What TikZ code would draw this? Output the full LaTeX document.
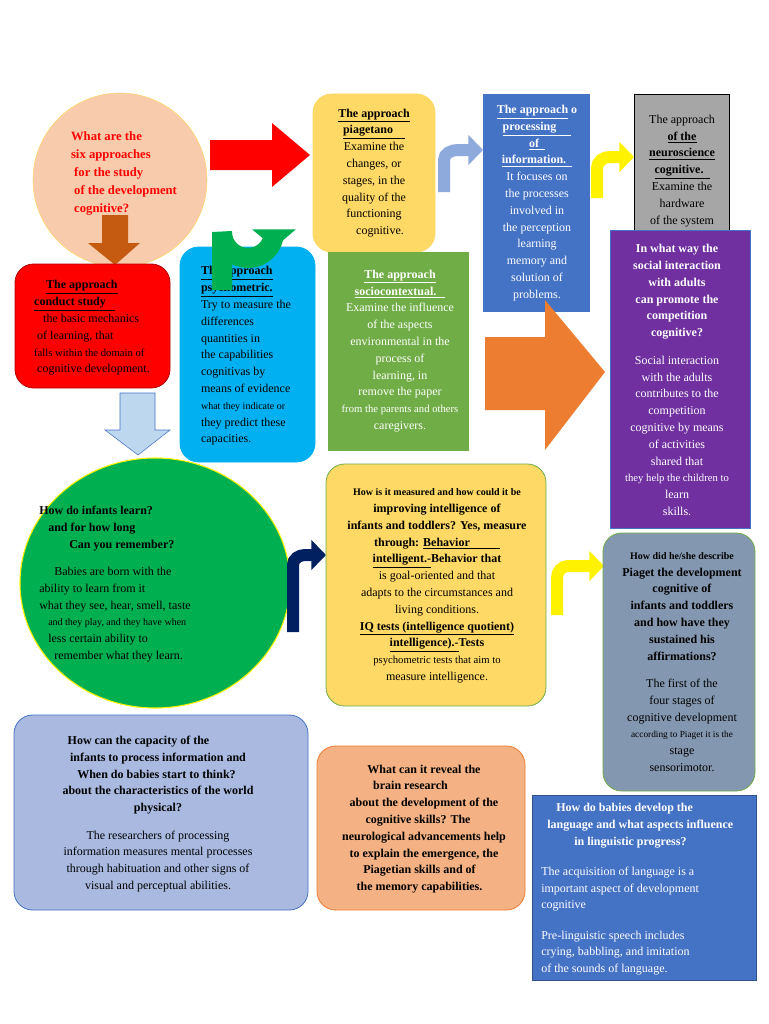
\documentclass[tikz,border=0pt]{standalone}
\usepackage{fontspec}
\setmainfont{Liberation Serif}
\usetikzlibrary{positioning,arrows.meta}

\definecolor{peach}{HTML}{F8CBAD}
\definecolor{sun}{HTML}{FFD966}
\definecolor{steel}{HTML}{4472C4}
\definecolor{ash}{HTML}{A6A6A6}
\definecolor{plum}{HTML}{7030A0}
\definecolor{leaf}{HTML}{70AD47}
\definecolor{sky}{HTML}{00B0F0}
\definecolor{grass}{HTML}{00B050}
\definecolor{rust}{HTML}{C55A11}
\definecolor{pale}{HTML}{BDD7EE}
\definecolor{navy}{HTML}{002060}
\definecolor{slate}{HTML}{8497B0}
\definecolor{lavender}{HTML}{A9B9E0}
\definecolor{salmon}{HTML}{F4B183}
\definecolor{tang}{HTML}{ED7D31}
\definecolor{lightblue}{HTML}{8EA9DB}

\tikzset{
    txt/.style={font=\fontsize{9}{12.6}\selectfont, inner sep=0pt},
    card/.style={rounded corners=14pt, draw=#1, line width=0.6pt},
    bent/.style={line width=#1, -{Triangle[length=11pt,width=22pt]}},
}

\begin{document}
\begin{tikzpicture}[x=0.75pt,y=-0.75pt]
    \useasboundingbox (0,0) rectangle (768,1024);
    \fill[white] (0,0) rectangle (768,1024);

    %Top row
    \filldraw[fill=peach, draw=sun] (120,180) ellipse (87 and 87);
    \node[txt, align=left, text=red, font=\fontsize{9.5}{13.5}\selectfont\bfseries] (q0) at (124,174)
        {What are the\\six approaches\\\ for the study\\\ of the development\\\ cognitive?};
    \fill[red] (210,140) -- (272,140) -- (272,123) -- (310,155) -- (272,187) -- (272,170) -- (210,170) -- cycle;

    \filldraw[fill=sun, card=sun] (313,94) rectangle (435,252);
    \node[txt, align=center] (piaget) at (374,173)
        {\textbf{\underline{The approach}}\\\textbf{\underline{piagetano\ \ \ \ }}\\Examine the\\changes, or\\stages, in the\\quality of the\\functioning\\\ \ \ \ cognitive.};

    \draw[lightblue, bent=9pt] (444,192) -- (444,160) to[out=90,in=180] (458,150) -- (483,150);

    \fill[steel] (483,94) rectangle (590,312);
    \node[txt, align=center, text=white] (proc) at (537,203)
        {\textbf{\underline{The approach} o}\\\textbf{\underline{processing\ \ \ \ \ }}\\\textbf{\underline{of\ \ }}\\\textbf{\underline{information.\ \ }}\\It focuses on\\the processes\\involved in\\the perception\\learning\\memory and\\solution of\\problems.};

    \draw[yellow, bent=9pt] (597,198) -- (597,168) to[out=90,in=180] (610,157) -- (634,157);

    \filldraw[fill=ash, draw=black] (634,94) rectangle (729,240);
    \node[txt, align=center] (neuro) at (682,178)
        {The approach\\\textbf{\underline{of the}}\\\textbf{\underline{neuroscience}}\\\textbf{\underline{cognitive.\ \ }}\\Examine the\\hardware\\of the system\\nervous};

    \filldraw[fill=plum, draw=steel] (610,230) rectangle (750,528);
    \node[txt, align=center, text=white] (social) at (677,380)
        {\textbf{In what way the}\\\textbf{social interaction}\\\textbf{with adults}\\\textbf{can promote the}\\\textbf{competition}\\\textbf{cognitive?}\\[8pt]Social interaction\\with the adults\\contributes to the\\competition\\cognitive by means\\of activities\\shared that\\{\fontsize{8}{12.6}\selectfont they help the children to}\\learn\\skills.};

    %Second row
    \fill[tang] (485,337) -- (545,337) -- (545,300) -- (605,372) -- (545,450) -- (545,410) -- (485,410) -- cycle;

    \filldraw[fill=leaf, draw=leaf] (328,252) rectangle (468,450);
    \node[txt, align=center, text=white] (socio) at (400,351)
        {\textbf{\underline{The approach}}\\\textbf{\underline{sociocontextual.\ \ \ }}\\Examine the influence\\of the aspects\\environmental in the\\process of\\learning, in\\remove the paper\\{\fontsize{8}{12.6}\selectfont from the parents and others}\\caregivers.};

    \filldraw[fill=sky, card=sky] (180,247) rectangle (315,462);
    \node[txt, align=left] (psycho) at (246,356)
        {\textbf{\underline{The approach}}\\\textbf{\underline{psychometric.}}\\Try to measure the\\differences\\quantities in\\the capabilities\\cognitivas by\\means of evidence\\{\fontsize{7.5}{12.6}\selectfont what they indicate or}\\they predict these\\capacities.};

    \draw[grass, line width=15pt, -{Triangle[length=14pt,width=32pt]}] (222,290) -- (222,232) arc (180:0:26) -- (274,248);

    \fill[rust] (102,215) -- (128,215) -- (128,243) -- (140,243) -- (115,265) -- (88,243) -- (102,243) -- cycle;

    \filldraw[fill=red, card=red!70!black] (15,264) rectangle (170,388);
    \node[txt, align=left] (conduct) at (92,328)
        {\ \ \ \ \textbf{\underline{The approach}}\\\textbf{\underline{conduct study\ \ \ }}\\\ \ \ the basic mechanics\\\ of learning, that\\{\fontsize{8}{12.6}\selectfont falls within the domain of}\\\ cognitive development.};

    \filldraw[fill=pale, draw=steel] (120,393) -- (155,393) -- (155,430) -- (170,430) -- (138,455) -- (105,430) -- (120,430) -- cycle;

    %Third row
    \filldraw[fill=grass, draw=yellow, line width=0.8pt] (155,583) ellipse (135 and 125);
    \node[txt, align=left] (infants) at (115,584)
        {\textbf{How do infants learn?}\\\textbf{\ \ \ and for how long}\\\textbf{\ \ \ \ \ \ \ \ \ \ Can you remember?}\\[8pt]\ \ \ \ \ Babies are born with the\\ability to learn from it\\what they see, hear, smell, taste\\\ \ \ {\fontsize{7.5}{12.6}\selectfont and they play, and they have when}\\\ \ \ less certain ability to\\\ \ \ \ \ remember what they learn.};

    \draw[navy, bent=9pt] (293,632) -- (293,565) to[out=90,in=180] (305,555) -- (326,555);

    \filldraw[fill=sun, card=leaf] (326,464) rectangle (546,706);
    \node[txt, align=center] (measure) at (437,586)
        {\textbf{{\fontsize{7.5}{12.6}\selectfont How is it measured and how could it be}}\\\textbf{improving intelligence of}\\\textbf{infants and toddlers? Yes, measure}\\\textbf{through: \underline{Behavior\ \ \ \ \ \ \ \ \ \ }}\\\textbf{\underline{intelligent.-}Behavior that}\\is goal-oriented and that\\adapts to the circumstances and\\living conditions.\\\textbf{\underline{IQ tests (intelligence quotient)}}\\\textbf{\underline{intelligence).-}Tests}\\{\fontsize{8}{12.6}\selectfont psychometric tests that aim to}\\measure intelligence.};

    \draw[yellow, bent=9pt] (557,615) -- (557,578) to[out=90,in=180] (568,566) -- (604,566);

    \filldraw[fill=slate, card=leaf] (603,533) rectangle (755,791);
    \node[txt, align=center] (describe) at (682,662)
        {\textbf{{\fontsize{7.5}{12.6}\selectfont How did he/she describe}}\\\textbf{Piaget the development}\\\textbf{cognitive of}\\\textbf{infants and toddlers}\\\textbf{and how have they}\\\textbf{sustained his}\\\textbf{affirmations?}\\[8pt]The first of the\\four stages of\\cognitive development\\{\fontsize{7}{12.6}\selectfont according to Piaget it is the}\\stage\\sensorimotor.};

    %Bottom row
    \filldraw[fill=lavender, card=steel] (14,715) rectangle (308,910);
    \node[txt, align=center] (capacity) at (158,814)
        {\textbf{How can the capacity of the\ \ \ \ \ \ \ \ \ \ \ \ \ \ }\\\textbf{infants to process information and}\\\textbf{When do babies start to think?\ \ \ }\\\textbf{about the characteristics of the world}\\\textbf{physical?}\\[8pt]The researchers of processing\\information measures mental processes\\through habituation and other signs of\\visual and perceptual abilities.};

    \filldraw[fill=salmon, card=tang] (317,746) rectangle (525,910);
    \node[txt, align=center] (brain) at (424,829)
        {\textbf{What can it reveal the}\\\textbf{brain research\ \ \ \ \ \ \ \ \ \ \ }\\\textbf{about the development of the}\\\textbf{cognitive skills? The\ \ \ \ \ \ }\\\textbf{neurological advancements help}\\\textbf{to explain the emergence, the}\\\textbf{Piagetian skills and of\ \ \ \ \ }\\\textbf{the memory capabilities.\ \ \ \ }};

    \filldraw[fill=steel, draw=steel!70!black] (532,795) rectangle (756,980);
    \node[txt, align=left, text=white, anchor=north west] (language) at (541,803)
        {\textbf{\ \ \ \ \ How do babies develop the}\\\textbf{\ \ language and what aspects influence}\\\textbf{\ \ \ \ \ \ \ \ \ \ \ in linguistic progress?}\\[10pt]The acquisition of language is a\\important aspect of development\\cognitive\\[10pt]Pre-linguistic speech includes\\crying, babbling, and imitation\\of the sounds of language.};
\end{tikzpicture}
\end{document}
